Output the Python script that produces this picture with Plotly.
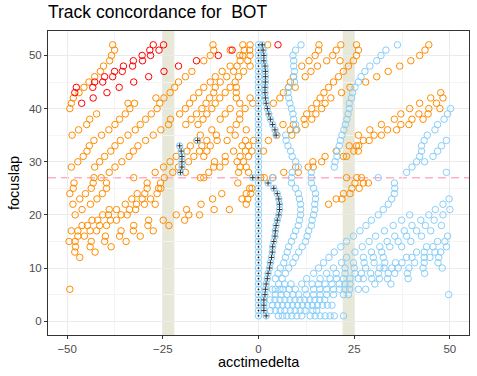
import plotly.graph_objects as go

# ---------------- data ----------------
orange_lap = [52, 51, 50, 49, 48, 47, 46, 45, 44, 43, 42, 41, 40, 39, 38, 37, 36, 35, 34, 33,
              32, 31, 30, 29, 28, 27, 26, 25, 24, 23, 22, 21, 20, 19, 18, 17, 16, 15, 14, 13, 12, 6]
orange_x = [
    [-38.1, -11.9, -4.1, -2.2, 2.4, 15.8, 21.5, 25.6, 44.5],
    [-37.6, -11.7, -7.4, -3.7, -2.3, 15.7, 20.3, 26.1, 43.5],
    [-38.4, -12.6, -4.9, -4.1, -2.2, 14.8, 19.4, 25.6, 42.1],
    [-38.9, -14.3, -4.8, -2.8, 13.2, 17.8, 21.3, 24.8, 39.8],
    [-40.5, -7.4, -5.6, -2.2, 11.3, 15.4, 23.5, 36.9],
    [-41.3, -17.4, -9.5, -6.5, -3.9, 13.7, 22.2, 33.9],
    [-42.8, -19.1, -11.3, -8.3, -5.2, 9.1, 12.2, 20.9, 30.9],
    [-44.3, -20.9, -12.6, -10.0, -6.1, 8.3, 19.6, 28.0],
    [-45.6, -21.9, -14.3, -11.3, -7.4, -5.8, 7.8, 9.6, 18.3, 23.9],
    [-46.9, -23.1, -15.6, -11.7, -8.7, -5.8, 6.5, 17.1, 21.7, 47.6],
    [-48.4, -26.8, -24.7, -17.0, -12.8, -10.1, -5.8, -2.2, 5.6, 16.1, 18.9, 45.0, 48.2],
    [-48.9, -34.1, -32.4, -25.8, -18.0, -13.7, -11.3, -4.9, -1.5, 3.9, 15.2, 17.4, 42.1, 46.5],
    [-49.3, -33.6, -26.5, -19.1, -14.8, -12.2, -7.4, -3.5, 13.9, 16.5, 39.5, 44.5, 47.4],
    [-42.3, -34.8, -28.0, -20.6, -16.2, -13.5, -8.7, -4.9, 12.6, 15.0, 37.2, 41.9, 44.3],
    [-44.1, -36.3, -29.5, -23.0, -17.6, -14.5, -10.0, -4.9, 11.9, 13.9, 35.5, 40.1, 43.0],
    [-44.9, -37.5, -30.9, -23.5, -19.0, -15.8, -5.8, 6.4, 9.1, 12.2, 32.1, 37.2, 39.3],
    [-47.0, -39.1, -32.2, -25.5, -12.2, -7.4, -3.2, 8.3, 10.0, 29.1, 33.7, 36.1],
    [-48.7, -41.0, -34.1, -27.5, -15.2, -11.0, -6.1, 4.8, 8.7, 26.1, 30.2, 32.1],
    [-43.0, -36.1, -29.5, -16.1, -13.5, -10.8, -8.2, -3.4, -1.3, 2.6, 27.4, 28.9],
    [-44.2, -37.5, -31.5, -17.8, -14.8, -12.6, -4.3, -2.6, 23.7, 25.6, 26.2],
    [-44.8, -38.6, -32.7, -18.7, -15.4, -13.5, -6.5, -3.4, -1.7, 1.3, 20.3, 24.9, 26.1],
    [-45.8, -40.2, -33.8, -21.5, -16.9, -14.3, -8.7, -4.8, -2.6, 17.4, 22.2, 23.0],
    [-47.2, -41.5, -35.7, -23.1, -18.3, -11.5, -8.7, -5.6, -3.9, 14.2, 16.5],
    [-48.9, -42.8, -37.5, -24.8, -20.9, -11.7, -10.1, -4.8, -3.2, 9.7, 13.0, 14.3],
    [-39.0, -27.0, -22.4, -19.1, -13.0, -5.2, -2.6, 6.6, 10.4],
    [-43.0, -41.1, -32.6, -24.6, -15.2, -14.3, 0.6, 1.5, 3.7, 23.0, 25.7, 26.9],
    [-48.2, -43.2, -39.7, -29.1, -25.6, -5.4, 25.2, 27.4, 28.7],
    [-48.4, -43.7, -39.7, -29.1, -26.1, -25.5, -2.3, -1.7, 24.4, 26.3],
    [-49.3, -45.2, -40.8, -31.7, -29.7, -26.5, -9.6, -3.2, -2.0, 22.2, 23.9],
    [-46.7, -42.2, -33.1, -30.4, -28.2, -12.0, -4.3, -2.8, 20.3, 21.8],
    [-48.5, -43.9, -34.8, -31.9, -29.8, -27.0, -15.0, -3.2, 18.3],
    [-46.1, -39.0, -37.1, -33.7, -32.1, -18.8, -11.6, -7.6],
    [-47.9, -40.7, -39.2, -35.9, -34.3, -21.5, -18.2, -15.4],
    [-43.5, -42.0, -38.7, -37.1, -28.7, -24.9, -19.3],
    [-46.1, -44.7, -41.5, -39.7, -32.6, -28.9, -23.4],
    [-48.9, -47.2, -44.0, -42.3, -35.9, -32.7, -27.5],
    [-47.2, -45.5, -40.0, -36.3, -30.9],
    [-49.5, -47.9, -43.7, -40.2, -34.6],
    [-47.8, -44.0, -38.5],
    [-48.0, -42.7],
    [-46.7],
    [-49.3],
]

red_lap = [52, 51, 50, 49, 48, 47, 46, 45, 44, 43, 42, 41]
red_x = [
    [-27.5, -24.8, 5.1],
    [-28.4, -26.0, -6.9],
    [-30.4, -28.2, -10.5],
    [-32.7, -30.3, -16.2],
    [-35.3, -32.9, -20.9],
    [-37.6, -35.6, -24.7],
    [-40.2, -38.1, -28.7],
    [-42.8, -40.7, -32.6],
    [-47.6, -43.3, -36.4],
    [-48.0, -39.6],
    [-43.2],
    [-46.2],
]

blue_lap = list(range(52, 0, -1))
blue_x = [
    [11.1, 36.3], [9.7, 33.3], [9.0, 32.0], [9.2, 30.9], [9.2, 29.1], [9.4, 27.8],
    [9.2, 26.8], [9.4, 26.1], [7.9, 25.2], [7.7, 24.6], [7.9, 24.3], [8.2, 23.7],
    [8.6, 23.7, 50.2], [9.0, 23.4, 49.4], [9.2, 23.1, 48.5], [9.7, 22.7, 46.8],
    [9.7, 22.3, 46.1], [7.1, 21.8, 44.1], [7.2, 21.4, 43.3, 49.1], [7.7, 21.1, 42.6, 47.8],
    [8.4, 20.5, 42.6, 46.8], [8.8, 20.5, 42.1, 45.6], [9.7, 20.0, 41.3, 43.4],
    [10.4, 19.8, 40.1], [8.8, 13.8, 38.7, 49.1], [3.8, 8.6, 13.8, 31.3],
    [8.6, 13.8, 35.5], [9.7, 14.4, 35.6], [10.4, 14.9, 35.5], [10.7, 14.9, 34.8, 49.8],
    [11.0, 14.7, 33.9, 48.2], [11.0, 14.7, 32.6, 46.2, 50.0],
    [11.0, 14.4, 31.3, 39.5, 44.5, 48.2], [10.7, 14.0, 29.5, 37.4, 42.4, 45.9],
    [10.4, 13.8, 28.1, 35.2, 40.1, 43.6, 47.8], [9.7, 13.1, 26.5, 32.9, 38.1, 41.3, 45.0],
    [9.2, 12.7, 24.8, 30.6, 35.6, 38.7, 42.6, 49.4],
    [8.6, 12.3, 23.0, 28.9, 33.6, 36.5, 39.8, 46.8, 48.7],
    [7.9, 11.4, 21.5, 27.1, 31.7, 34.3, 37.4, 43.9, 45.6, 49.1],
    [7.5, 10.5, 19.8, 25.2, 29.5, 32.2, 41.3, 43.3, 46.1, 47.6],
    [7.05, 9.7, 18.4, 23.0, 27.4, 30.0, 32.6, 38.7, 40.1, 43.3, 44.8, 47.1],
    [6.6, 9.0, 17.0, 21.7, 24.8, 27.6, 30.2, 33.0, 35.8, 37.5, 40.8, 43.3, 46.9],
    [5.7, 7.9, 15.7, 19.6, 22.6, 25.0, 28.0, 31.7, 32.8, 34.8, 36.5, 39.3, 43.0, 48.0],
    [5.1, 7.05, 14.4, 17.8, 20.3, 22.6, 25.2, 26.9, 29.3, 31.3, 33.9, 35.6, 38.9, 43.4],
    [4.4, 6.2, 12.6, 16.1, 18.7, 20.4, 22.2, 23.9, 26.1, 27.4, 29.6, 31.6, 33.7, 39.1],
    [5.3, 6.8, 8.5, 11.3, 14.0, 15.7, 17.4, 19.2, 21.1, 22.6, 23.9, 30.4, 34.6],
    [3.6, 4.4, 5.6, 6.4, 8.0, 9.6, 12.2, 14.4, 16.0, 17.8, 19.6, 21.1, 22.6, 23.8, 26.1, 28.0],
    [4.4, 5.9, 7.4, 9.0, 10.5, 12.6, 14.4, 16.1, 17.8, 19.6, 22.2, 23.5, 49.7],
    [3.0, 4.3, 5.6, 6.9, 8.2, 9.5, 10.8, 12.1, 13.4, 14.7, 16.0, 17.3],
    [3.7, 5.0, 6.3, 7.6, 8.9, 10.2, 11.5, 12.8, 14.1, 15.4, 16.7, 18.0, 19.2],
    [3.1, 4.4, 5.7, 6.9, 8.3, 9.6, 10.9, 12.2, 14.2, 15.2],
    [5.2, 6.3, 7.4, 8.7, 10.0, 11.3, 13.5, 14.8, 16.1, 17.4, 18.7, 19.8, 22.2],
]

# reference car (blue circle with black dot)
dot_lap = list(range(1, 53))
dot_x = [0.0] * 52

# highlighted car (blue circle with black cross)
plus_lap = list(range(52, 0, -1))
plus_x = [1.0, 1.2, 1.4, 1.4, 1.7, 1.8, 1.8, 1.8, 1.7, 1.7, 1.8, 2.0, 2.3, 2.7, 3.1, 3.7,
          4.3, 4.6, -15.9, -20.6, -20.2, -20.0, -20.0, -20.0, -20.4, -1.5, 2.5, 4.0, 4.9,
          5.3, 5.5, 5.5, 5.3, 4.9, 4.6, 4.4, 4.3, 4.0, 3.7, 3.6, 3.4, 3.1, 2.9, 2.5, 2.3,
          2.0, 1.8, 1.7, 1.4, 1.4, 1.4, 2.0]

bands = [(-25, -22), (22, 25)]
ref_lap = 27
x_ticks = [-50, -25, 0, 25, 50]
y_ticks = [0, 10, 20, 30, 40, 50]


def flatten(laps, rows):
    xs, ys = [], []
    for lap, row in zip(laps, rows):
        for v in row:
            xs.append(v)
            ys.append(lap)
    return xs, ys


ORANGE = "#FF8C00"
RED = "#FF0000"
BLUE = "#87CEFA"
FONT = "Liberation Sans, Arial, sans-serif"

fig = go.Figure()


def open_circles(xs, ys, color):
    fig.add_trace(go.Scatter(
        x=xs, y=ys, mode="markers", hoverinfo="skip",
        marker=dict(symbol="circle-open", size=6.5, color=color, line=dict(width=1, color=color)),
    ))


ox, oy = flatten(orange_lap, orange_x)
open_circles(ox, oy, ORANGE)
rx, ry = flatten(red_lap, red_x)
open_circles(rx, ry, RED)
bx, by = flatten(blue_lap, blue_x)
open_circles(bx, by, BLUE)
open_circles(dot_x, dot_lap, BLUE)
open_circles(plus_x, plus_lap, BLUE)
fig.add_trace(go.Scatter(x=dot_x, y=dot_lap, mode="markers", hoverinfo="skip",
                         marker=dict(symbol="circle", size=1.8, color="#111111",
                                     line=dict(width=0))))
fig.add_trace(go.Scatter(x=plus_x, y=plus_lap, mode="markers", hoverinfo="skip",
                         marker=dict(symbol="cross-thin-open", size=3.6, color="#333333",
                                     line=dict(width=1, color="#333333"))))

for x0, x1 in bands:
    fig.add_shape(type="rect", xref="x", yref="paper", x0=x0, x1=x1, y0=0, y1=1,
                  fillcolor="#E8E8D8", line=dict(width=0), layer="below")
fig.add_shape(type="line", xref="paper", yref="y", x0=0, x1=1, y0=ref_lap, y1=ref_lap,
              line=dict(color="#FFAFC0", width=1.5, dash="8px,5px"), layer="below")

axis_common = dict(
    automargin=False,
    showgrid=True, gridcolor="#EBEBEB", gridwidth=1,
    zeroline=False, showline=True, mirror=True, linecolor="#333333", linewidth=1,
    ticks="outside", ticklen=3, tickcolor="#333333", tickwidth=1,
    tickfont=dict(size=11.5, color="#4D4D4D", family=FONT),
)

W, H = 477, 376
ML, MR, MT, MB = 48, 8, 31, 41
PW, PH = W - ML - MR, H - MT - MB

fig.update_layout(
    width=W, height=H,
    margin=dict(l=ML, r=MR, t=MT, b=MB),
    paper_bgcolor="white", plot_bgcolor="white",
    showlegend=False,
    font=dict(family=FONT, color="black"),
    title=dict(text="Track concordance for \u00a0BOT", x=0, xanchor="left",
               xref="paper", yref="container", y=1 - 12 / H, yanchor="middle",
               font=dict(size=17.5, color="black")),
    xaxis=dict(range=[-55, 55], tickvals=x_ticks,
               minor=dict(tickvals=[-37.5, -12.5, 12.5, 37.5], showgrid=True,
                          gridcolor="#F4F4F4", gridwidth=1, ticks=""),
               **axis_common),
    yaxis=dict(range=[-2.6, 54.6], tickvals=y_ticks,
               minor=dict(tickvals=[5, 15, 25, 35, 45], showgrid=True,
                          gridcolor="#F4F4F4", gridwidth=1, ticks=""),
               **axis_common),
    annotations=[
        dict(text="acctimedelta", xref="paper", yref="paper", x=0.5, y=-(362 - (MT + PH)) / PH,
             xanchor="center", yanchor="middle", showarrow=False,
             font=dict(size=14.5, color="black", family=FONT)),
        dict(text="focuslap", xref="paper", yref="paper", x=-(ML - 14) / PW, y=0.5,
             xanchor="center", yanchor="middle", textangle=-90, showarrow=False,
             font=dict(size=14.5, color="black", family=FONT)),
    ],
)

fig.write_html(
    "out.html",
    config={"displayModeBar": False},
    post_script="document.body.style.margin='0';document.body.style.overflow='hidden';",
)
